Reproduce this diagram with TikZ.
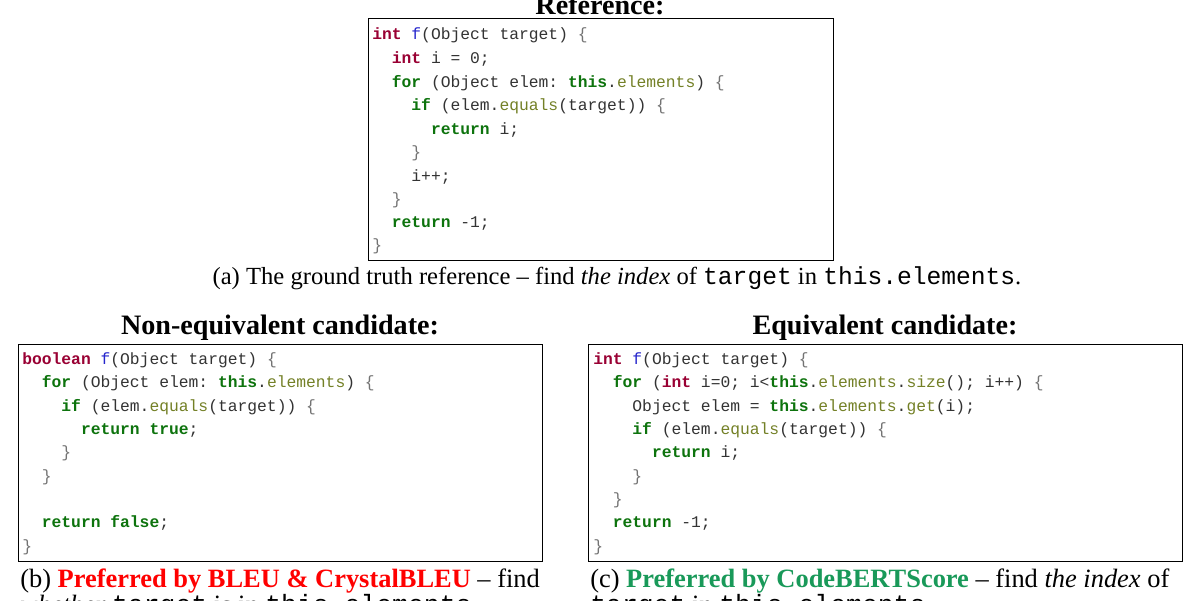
\documentclass[tikz,border=0pt]{standalone}
\usepackage{fontspec}
\setmainfont{Liberation Serif}
\setmonofont{Liberation Mono}
\definecolor{kwc}{rgb}{0.05,0.45,0.05}
\definecolor{tyc}{rgb}{0.6,0,0.2}
\definecolor{fnc}{rgb}{0.15,0.15,0.8}
\definecolor{mec}{rgb}{0.45,0.5,0.15}
\definecolor{txc}{rgb}{0.2,0.2,0.2}
\definecolor{brc}{rgb}{0.45,0.45,0.45}
\definecolor{redc}{rgb}{1,0,0}
\definecolor{grc}{rgb}{0.1,0.6,0.35}
\newcommand{\kwx}[1]{\textcolor{kwc}{\bfseries #1}}
\newcommand{\tyx}[1]{\textcolor{tyc}{\bfseries #1}}
\newcommand{\fnx}[1]{\textcolor{fnc}{#1}}
\newcommand{\mex}[1]{\textcolor{mec}{#1}}
\newcommand{\brx}[1]{\textcolor{brc}{#1}}
\begin{document}
\begin{tikzpicture}[x=0.025cm,y=-0.025cm,
  code/.style={anchor=base west,inner sep=0pt,font=\fontsize{11.6}{14}\ttfamily,text=txc},
  box/.style={draw,line width=0.8pt},
  title/.style={anchor=base,inner sep=0pt,font=\fontsize{20}{24}\selectfont\bfseries},
  captxt/.style={anchor=base west,inner sep=0pt,font=\fontsize{17.5}{21}\selectfont},
  capbig/.style={anchor=base west,inner sep=0pt,font=\fontsize{18.8}{22}\selectfont}]
\useasboundingbox (0,0) rectangle (1200,600);
\clip (0,0) rectangle (1200,600);
% Reference
\node[title] (t1) at (600,14) {Reference:};
\node[box,minimum width=465*0.025cm,minimum height=242*0.025cm,anchor=north west] (ba) at (368,18) {};
\node[code] (a1) at (372,39) {\tyx{int} \fnx{f}(Object target) \brx{\{}};
\node[code] (a2) at (372,63) {\ \ \tyx{int} i = 0;};
\node[code] (a3) at (372,87) {\ \ \kwx{for} (Object elem: \kwx{this}.\mex{elements}) \brx{\{}};
\node[code] (a4) at (372,110) {\ \ \ \ \kwx{if} (elem.\mex{equals}(target)) \brx{\{}};
\node[code] (a5) at (372,134) {\ \ \ \ \ \ \kwx{return} i;};
\node[code] (a6) at (372,157) {\ \ \ \ \brx{\}}};
\node[code] (a7) at (372,181) {\ \ \ \ i++;};
\node[code] (a8) at (372,204) {\ \ \brx{\}}};
\node[code] (a9) at (372,227) {\ \ \kwx{return} -1;};
\node[code] (a10) at (372,250) {\brx{\}}};
\node[captxt,anchor=base] (ca) at (617,284) {(a) The ground truth reference -- find \textit{the index} of \texttt{target} in \texttt{this.elements}.};
% b
\node[title] (t2) at (280,334) {Non-equivalent candidate:};
\node[box,minimum width=524*0.025cm,minimum height=217*0.025cm,anchor=north west] (bb) at (18,344) {};
\node[code] (b1) at (22,364) {\tyx{boolean} \fnx{f}(Object target) \brx{\{}};
\node[code] (b2) at (22,387) {\ \ \kwx{for} (Object elem: \kwx{this}.\mex{elements}) \brx{\{}};
\node[code] (b3) at (22,411) {\ \ \ \ \kwx{if} (elem.\mex{equals}(target)) \brx{\{}};
\node[code] (b4) at (22,434) {\ \ \ \ \ \ \kwx{return} \kwx{true};};
\node[code] (b5) at (22,457) {\ \ \ \ \brx{\}}};
\node[code] (b6) at (22,481) {\ \ \brx{\}}};
\node[code] (b7) at (22,527) {\ \ \kwx{return} \kwx{false};};
\node[code] (b8) at (22,551) {\brx{\}}};
\node[capbig] (cb) at (20,587) {(b) \textcolor{redc}{\bfseries Preferred by BLEU \& CrystalBLEU} -- find};
\node[capbig] (cb2) at (20,613) {\textit{whether} \texttt{target} is in \texttt{this.elements}.};
% c
\node[title] (t3) at (885,334) {Equivalent candidate:};
\node[box,minimum width=594*0.025cm,minimum height=217*0.025cm,anchor=north west] (bc) at (588,344) {};
\node[code] (c1) at (593,364) {\tyx{int} \fnx{f}(Object target) \brx{\{}};
\node[code] (c2) at (593,387) {\ \ \kwx{for} (\tyx{int} i=0; i<\kwx{this}.\mex{elements}.\mex{size}(); i++) \brx{\{}};
\node[code] (c3) at (593,411) {\ \ \ \ Object elem = \kwx{this}.\mex{elements}.\mex{get}(i);};
\node[code] (c4) at (593,434) {\ \ \ \ \kwx{if} (elem.\mex{equals}(target)) \brx{\{}};
\node[code] (c5) at (593,457) {\ \ \ \ \ \ \kwx{return} i;};
\node[code] (c6) at (593,481) {\ \ \ \ \brx{\}}};
\node[code] (c7) at (593,504) {\ \ \brx{\}}};
\node[code] (c8) at (593,527) {\ \ \kwx{return} -1;};
\node[code] (c9) at (593,551) {\brx{\}}};
\node[capbig] (cc) at (590,587) {(c) \textcolor{grc}{\bfseries Preferred by CodeBERTScore} -- find \textit{the index} of};
\node[capbig] (cc2) at (590,613) {\texttt{target} in \texttt{this.elements}.};
\end{tikzpicture}
\end{document}
